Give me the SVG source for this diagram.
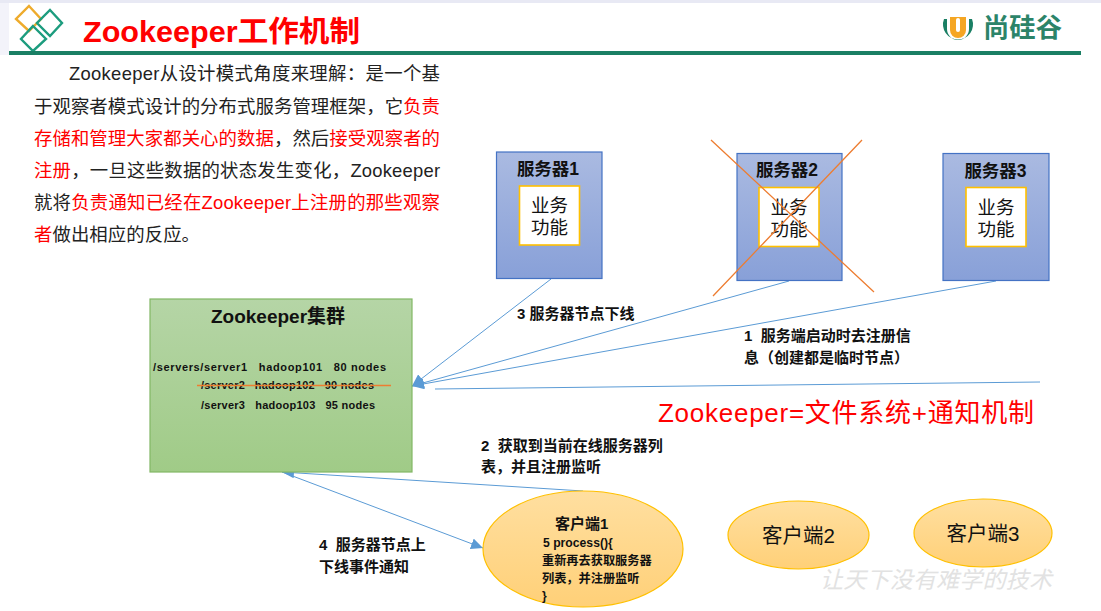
<svg xmlns="http://www.w3.org/2000/svg" width="1101" height="611" viewBox="0 0 1101 611">
<style>
text{font-family:"Liberation Sans","Noto Sans CJK SC",sans-serif;fill:#111}
.b{font-weight:700}
.para{font-size:18.4px;fill:#222}
.r{fill:#f00}
.lbl{font-size:15px;font-weight:700}
.srv{font-size:17.500px;font-weight:700;text-anchor:middle}
.biz{font-size:18.500px;text-anchor:middle}
.zn{font-size:11px;font-weight:700}
.zc{font-size:12.200px;font-weight:700}
.cl{font-size:20.500px;text-anchor:middle}
.server{fill:url(#gb);stroke:#4472c4;stroke-width:1.2}
.inner{fill:#fff;stroke:#ffc000;stroke-width:1.6}
.client{fill:url(#gy);stroke:#ffc000;stroke-width:1.2}
.conn{fill:none;stroke:#5b9bd5;stroke-width:1}
.x{stroke:#ed7d31;stroke-width:1.3;fill:none}
.d{fill:none;stroke-width:2.4}
</style>
<defs>
<linearGradient id="gb" x1="0" y1="0" x2="0" y2="1"><stop offset="0" stop-color="#aabae1"/><stop offset="1" stop-color="#88a0d8"/></linearGradient>
<linearGradient id="gg" x1="0" y1="0" x2="0" y2="1"><stop offset="0" stop-color="#b5d5a6"/><stop offset="1" stop-color="#a0cb87"/></linearGradient>
<linearGradient id="gy" x1="0" y1="0" x2="0" y2="1"><stop offset="0" stop-color="#ffdfa0"/><stop offset="1" stop-color="#ffd078"/></linearGradient>
<marker id="ah" markerUnits="userSpaceOnUse" markerWidth="13" markerHeight="11" refX="12" refY="5.500" orient="auto"><path d="M0 0L12 5.500L0 11z" fill="#5b9bd5"/></marker>
</defs>
<rect width="1101" height="611" fill="#fff"/>
<rect width="1101" height="3" fill="#e8e9f4"/>
<rect y="3" width="9" height="52" fill="#f3f3fa"/>
<g id="header">
<path class="d" stroke="#eeab2c" d="M29 6L41 19L29 31L16 19z"/>
<path class="d" stroke="#1c9c7e" d="M50 10L62 23L50 36L37 23z"/>
<path class="d" stroke="#1c9c7e" d="M33 26L46 39L33 51L21 39z"/>
<rect x="9" y="51" width="1072" height="4" fill="#1a7f64"/>
<text x="83" y="42" class="b" font-size="29" style="fill:#f00" textLength="277" lengthAdjust="spacingAndGlyphs">Zookeeper工作机制</text>
<path d="M944 19A15 15 0 1 0 972 19L969 19V29A11 11 0 0 1 947 29V19z" fill="#1a7f64"/>
<path d="M950 17h16v13a8 8 0 0 1-16 0z" fill="#f5a623"/>
<rect x="956" y="18" width="4" height="14" rx="2" fill="#fff"/>
<text x="983" y="37" class="b" font-size="26" style="fill:#2c8469" textLength="79" lengthAdjust="spacingAndGlyphs">尚硅谷</text>
</g>
<g id="intro">
<text class="para" x="69" y="80" textLength="371">Zookeeper从设计模式角度来理解：是一个基</text>
<text class="para" x="34" y="113" textLength="406">于观察者模式设计的分布式服务管理框架，它<tspan class="r">负责</tspan></text>
<text class="para" x="34" y="145" textLength="406"><tspan class="r">存储和管理大家都关心的数据</tspan>，然后<tspan class="r">接受观察者的</tspan></text>
<text class="para" x="34" y="177" textLength="406"><tspan class="r">注册</tspan>，一旦这些数据的状态发生变化，Zookeeper</text>
<text class="para" x="34" y="209" textLength="406">就将<tspan class="r">负责通知已经在Zookeeper上注册的那些观察</tspan></text>
<text class="para" x="34" y="241" textLength="166"><tspan class="r">者</tspan>做出相应的反应。</text>
</g>
<g id="connectors">
<path class="conn" d="M551 279L412 386" marker-end="url(#ah)"/>
<path class="conn" d="M789 281L412 386" marker-end="url(#ah)"/>
<path class="conn" d="M996 281L412 386" marker-end="url(#ah)"/>
<path class="conn" d="M1040 382L435 389"/>
<path class="conn" d="M583 491L282 472" marker-end="url(#ah)"/>
<path class="conn" d="M282 472L483 548" marker-end="url(#ah)"/>
</g>
<g id="server1">
<rect class="server" x="496.500" y="152" width="105.500" height="126.500"/>
<rect class="inner" x="519.500" y="186" width="60" height="59"/>
<text class="srv" x="548" y="175">服务器1</text>
<text class="biz" x="549.500" y="212">业务</text><text class="biz" x="549.500" y="234">功能</text>
</g>
<g id="server2">
<rect class="server" x="737" y="153.500" width="105" height="127"/>
<rect class="inner" x="759" y="187.500" width="60" height="59"/>
<text class="srv" x="787" y="176">服务器2</text>
<text class="biz" x="789" y="214">业务</text><text class="biz" x="789" y="236">功能</text>
<path class="x" d="M711 140L874 292M862 140L713 296"/>
</g>
<g id="server3">
<rect class="server" x="943" y="153.500" width="106" height="127"/>
<rect class="inner" x="966" y="187.500" width="60" height="59"/>
<text class="srv" x="995.500" y="177">服务器3</text>
<text class="biz" x="996" y="214">业务</text><text class="biz" x="996" y="236">功能</text>
</g>
<g id="zookeeper-cluster">
<rect x="150" y="299" width="262" height="173" fill="url(#gg)" stroke="#82b765" stroke-width="1.200"/>
<text x="278" y="323" class="b" font-size="19" text-anchor="middle">Zookeeper集群</text>
<text class="zn" x="153" y="371" xml:space="preserve" textLength="233">/servers/server1   hadoop101   80 nodes</text>
<text class="zn" x="201" y="389" xml:space="preserve" textLength="173">/server2   hadoop102   90 nodes</text>
<text class="zn" x="201" y="409" xml:space="preserve" textLength="174">/server3   hadoop103   95 nodes</text>
<path class="x" d="M197 385.500H391"/>
</g>
<g id="client1">
<ellipse class="client" cx="583" cy="549" rx="100" ry="58"/>
<text class="lbl" x="555" y="529">客户端1</text>
<text class="zc" x="543" y="547">5 process(){</text>
<text class="zc" x="542" y="565">重新再去获取服务器</text>
<text class="zc" x="542" y="583">列表，并注册监听</text>
<text class="zc" x="542" y="600">}</text>
</g>
<g id="client2">
<ellipse class="client" cx="798.500" cy="535" rx="70.500" ry="34"/>
<text class="cl" x="798.500" y="543">客户端2</text>
</g>
<g id="client3">
<ellipse class="client" cx="983" cy="533" rx="69" ry="34"/>
<text class="cl" x="983" y="541">客户端3</text>
</g>
<g id="labels">
<text class="lbl" x="517" y="319">3 服务器节点下线</text>
<text class="lbl" x="744" y="341" xml:space="preserve">1  服务端启动时去注册信</text>
<text class="lbl" x="744" y="363">息（创建都是临时节点）</text>
<text x="658" y="422" font-size="26" style="fill:#f00" textLength="376">Zookeeper=文件系统+通知机制</text>
<text class="lbl" x="481" y="451" xml:space="preserve">2  获取到当前在线服务器列</text>
<text class="lbl" x="481" y="472">表，并且注册监听</text>
<text class="lbl" x="319" y="550" xml:space="preserve">4  服务器节点上</text>
<text class="lbl" x="319" y="572">下线事件通知</text>
<text x="820" y="588" font-size="23" font-style="italic" style="fill:#e2e2e2" textLength="232">让天下没有难学的技术</text>
</g>
</svg>
